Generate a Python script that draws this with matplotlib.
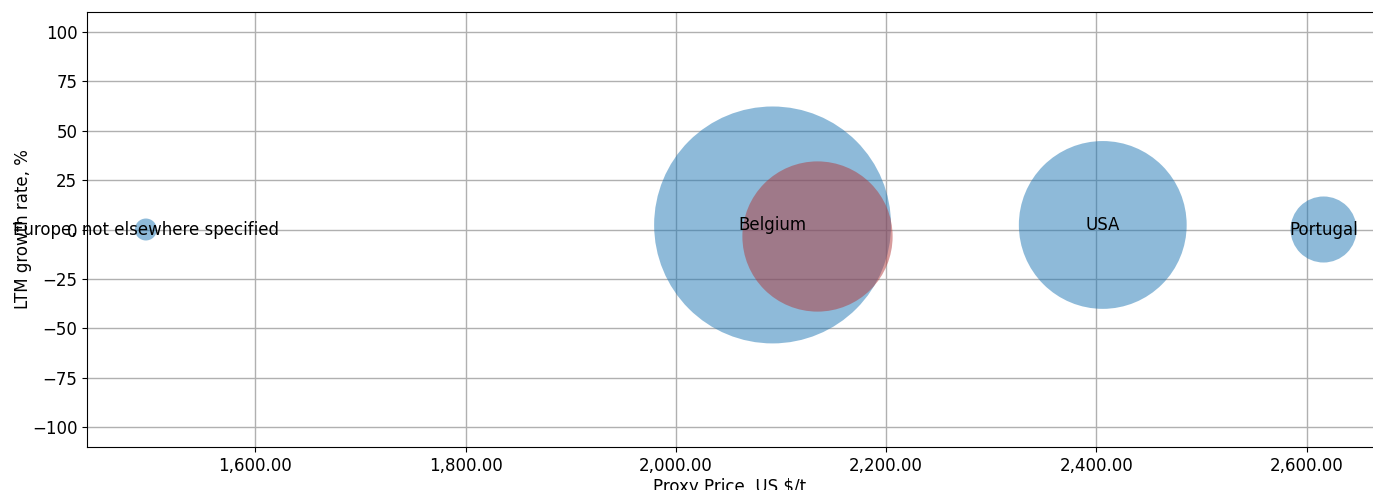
import matplotlib
matplotlib.use("Agg")
import matplotlib.pyplot as plt
from matplotlib.ticker import FuncFormatter

# Podaci (ocitano sa slike)
countries = ["Europe, not elsewhere specified", "Belgium", "USA", "Portugal"]
price = [1496, 2092, 2406, 2616]
growth = [0.0, 2.3, 2.3, 0.0]
sizes = [250, 29100, 14600, 2260]

# drugi (crveni) krug
red_price = [2134]
red_growth = [-3.3]
red_sizes = [11700]

fig = plt.figure(figsize=(13.73, 4.9), dpi=100)
ax = fig.add_axes([87 / 1373, 43 / 490, 1 - 87 / 1373, 435 / 490])

ax.scatter(price, growth, s=sizes, color="#1f77b4", alpha=0.5, linewidths=0, zorder=2)
ax.scatter(red_price, red_growth, s=red_sizes, color="#b1393b", alpha=0.5, linewidths=0, zorder=3)

for name, x, y in zip(countries, price, growth):
    ax.text(x, y, name, ha="center", va="center", fontsize=12, zorder=4)

ax.set_xlim(1440, 2663)
ax.set_ylim(-110, 110)
ax.set_yticks([-100, -75, -50, -25, 0, 25, 50, 75, 100])
ax.xaxis.set_major_formatter(FuncFormatter(lambda v, p: f"{v:,.2f}"))
ax.tick_params(labelsize=12)
ax.grid(True, color="#b0b0b0", linewidth=1, zorder=0)
ax.set_axisbelow(True)
ax.spines["right"].set_visible(False)

ax.set_xlabel("Proxy Price, US \\$/t", fontsize=12, labelpad=2)
ax.set_ylabel("LTM growth rate, %", fontsize=12, labelpad=0)

fig.savefig("out.png", dpi=100)
